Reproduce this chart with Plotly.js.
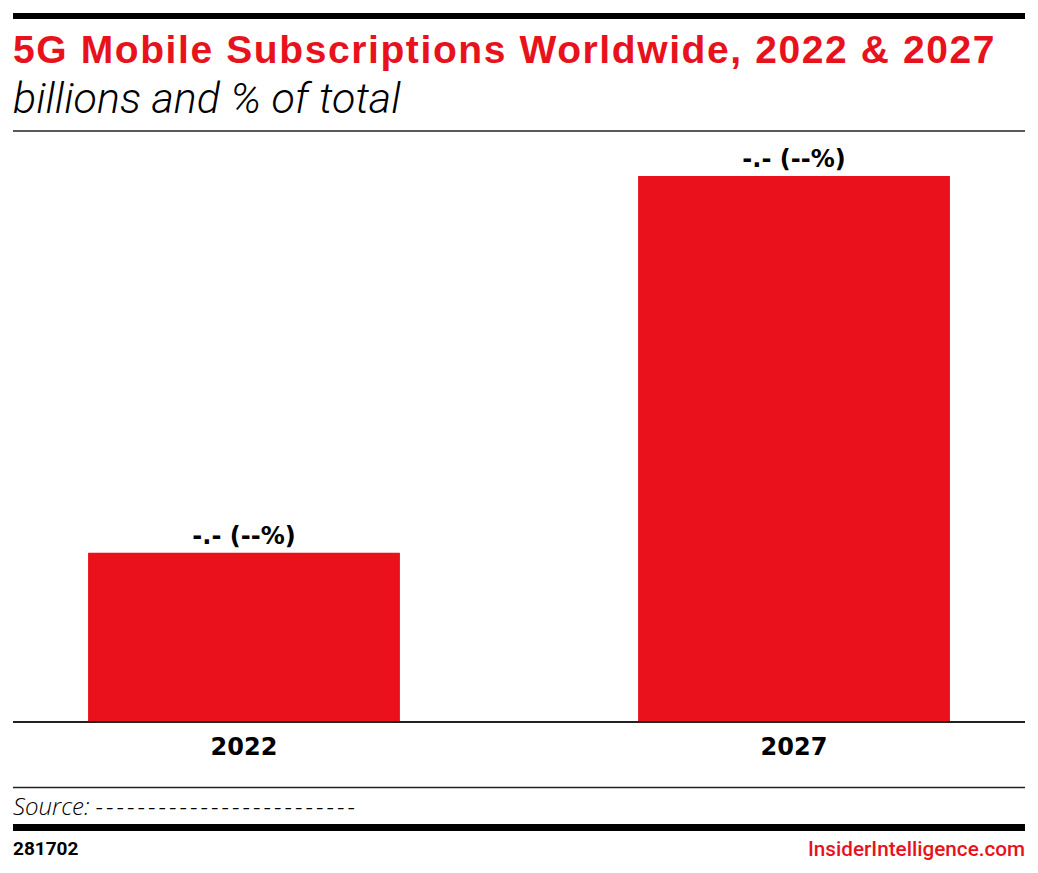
<!DOCTYPE html>
<html>
<head>
<meta charset="utf-8">
<script src="https://cdn.plot.ly/plotly-3.0.1.min.js"></script>
<style>
  html, body { margin: 0; padding: 0; background: #ffffff; }
  #chart { width: 1038px; height: 873px; }
</style>
</head>
<body>
<div id="chart"></div>
<script>
// ---- Data ----
const categories = ["2022", "2027"];
const subscriptions = [1.05, 3.40];          // billions
const valueLabels = ["-.- (--%)", "-.- (--%)"];
const titleText = "5G Mobile Subscriptions Worldwide, 2022 & 2027";
const subtitleText = "billions and % of total";
const sourceLabel = "Source:";
const sourceValue = "-------------------------";
const chartId = "281702";
const brandText = "InsiderIntelligence.com";

// ---- Layout geometry (pixels) ----
const W = 1038, H = 873;
const L = 13, R = 1025, T = 133, B = 721;
const px2x = px => (px - L) / (R - L);
const px2y = py => (B - py) / (B - T);

const RED = "#e8121d";

const trace = {
  type: "bar",
  x: [0, 1],
  y: subscriptions,
  width: 0.567,
  marker: { color: "#ea111d", line: { width: 0 } },
  text: valueLabels,
  textposition: "outside",
  cliponaxis: false,
  textfont: { family: "DejaVu Sans", size: 24, color: "#000000", weight: "bold" },
  hoverinfo: "none"
};

const layout = {
  width: W, height: H,
  margin: { l: L, r: W - R, t: T, b: H - B, pad: 0 },
  paper_bgcolor: "#ffffff",
  plot_bgcolor: "#ffffff",
  showlegend: false,
  xaxis: {
    type: "linear",
    range: [-0.42, 1.42],
    tickvals: [0, 1],
    ticktext: categories,
    ticks: "",
    showgrid: false,
    zeroline: false,
    showline: true,
    linecolor: "#222222",
    linewidth: 1.5,
    ticklabelstandoff: 4,
    tickfont: { family: "DejaVu Sans", size: 24, color: "#000000", weight: "bold" },
    fixedrange: true
  },
  yaxis: {
    range: [0, 3.668],
    showgrid: false,
    zeroline: false,
    showticklabels: false,
    showline: false,
    ticks: "",
    fixedrange: true
  },
  shapes: [
    { type: "line", xref: "paper", yref: "paper", x0: 0, x1: 1, y0: px2y(16), y1: px2y(16),
      line: { color: "#000000", width: 6 } },
    { type: "line", xref: "paper", yref: "paper", x0: 0, x1: 1, y0: px2y(131), y1: px2y(131),
      line: { color: "#222222", width: 1.5 } },
    { type: "line", xref: "paper", yref: "paper", x0: 0, x1: 1, y0: px2y(787.5), y1: px2y(787.5),
      line: { color: "#222222", width: 1.5 } },
    { type: "line", xref: "paper", yref: "paper", x0: 0, x1: 1, y0: px2y(827.5), y1: px2y(827.5),
      line: { color: "#000000", width: 7 } }
  ],
  annotations: [
    { text: "<span style=\"letter-spacing:1.6px\"><b>" + titleText + "</b></span>",
      xref: "paper", yref: "paper", x: px2x(11), y: px2y(49.5),
      xanchor: "left", yanchor: "middle", showarrow: false,
      font: { family: "Liberation Sans", size: 39, color: RED } },
    { text: subtitleText, xref: "paper", yref: "paper", x: px2x(11), y: px2y(98),
      xanchor: "left", yanchor: "middle", showarrow: false,
      font: { family: "Roboto", size: 43, color: "#000000", style: "italic", weight: 300 } },
    { text: sourceLabel + " <span style=\"letter-spacing:3px\">" + sourceValue + "</span>",
      xref: "paper", yref: "paper", x: px2x(11), y: px2y(805),
      xanchor: "left", yanchor: "middle", showarrow: false,
      font: { family: "Open Sans", size: 24, color: "#000000", style: "italic", weight: 300 } },
    { text: "<b>" + chartId + "</b>", xref: "paper", yref: "paper", x: px2x(11), y: px2y(848.5),
      xanchor: "left", yanchor: "middle", showarrow: false,
      font: { family: "Roboto", size: 19, color: "#000000" } },
    { text: brandText, xref: "paper", yref: "paper", x: px2x(1027), y: px2y(848.5),
      xanchor: "right", yanchor: "middle", showarrow: false,
      font: { family: "Roboto", size: 20.7, color: RED, weight: 500 } }
  ]
};

Plotly.newPlot("chart", [trace], layout, { displayModeBar: false, staticPlot: true });
</script>
</body>
</html>
